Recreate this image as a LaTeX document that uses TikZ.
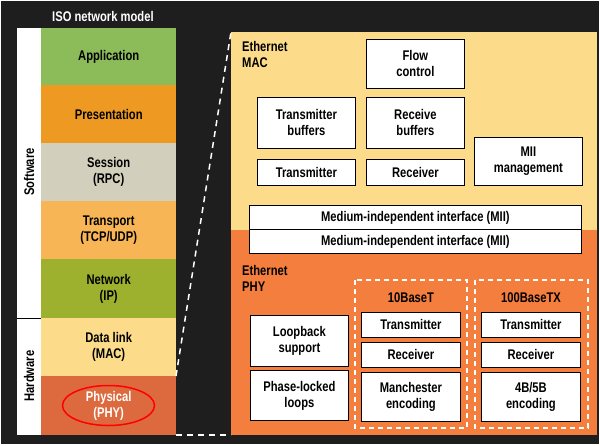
\documentclass[tikz,border=0pt]{standalone}
\usepackage{fontspec}
\setmainfont{Liberation Sans}[FakeStretch=0.8]
\begin{document}
\begin{tikzpicture}[x=1pt,y=-1pt,font=\bfseries\fontsize{14}{16}\selectfont,
  lay/.style={draw=none,minimum width=135pt,inner sep=0pt,align=center},
  box/.style={draw=black,fill=white,line width=0.8pt,inner sep=0pt,align=center},
  dsh/.style={draw=white,dashed,line width=1.5pt,dash pattern=on 6pt off 5pt}]
\definecolor{bg}{HTML}{1E1E1E}
\definecolor{app}{HTML}{8CBB5A}
\definecolor{pres}{HTML}{EE9A22}
\definecolor{sess}{HTML}{D2D0BC}
\definecolor{trans}{HTML}{F8B556}
\definecolor{net}{HTML}{9DB12E}
\definecolor{dl}{HTML}{FCDB8A}
\definecolor{phy}{HTML}{DC6A3E}
\definecolor{mac}{HTML}{FCDB8A}
\definecolor{ophy}{HTML}{F47E3E}
\useasboundingbox (0,0) rectangle (600,445);
\fill[white] (0,0) rectangle (600,445);
\fill[bg] (1,1) rectangle (599,444);
\node[white,anchor=west,inner sep=0pt] (title) at (52,16) {ISO network model};
\fill[white] (17,28) rectangle (41,435);
\draw[black,line width=0.8pt] (17,318) -- (41,318);
\node[rotate=90] (sw) at (29,172) {Software};
\node[rotate=90] (hw) at (29,376) {Hardware};
\node[lay,fill=app,minimum height=57pt,anchor=north west] (l7) at (41,28) {Application};
\node[lay,fill=pres,minimum height=58pt,anchor=north west] (l6) at (41,85) {Presentation};
\node[lay,fill=sess,minimum height=58pt,anchor=north west] (l5) at (41,143) {Session\\(RPC)};
\node[lay,fill=trans,minimum height=58pt,anchor=north west] (l4) at (41,201) {Transport\\(TCP/UDP)};
\node[lay,fill=net,minimum height=59pt,anchor=north west] (l3) at (41,259) {Network\\(IP)};
\node[lay,fill=dl,minimum height=58pt,anchor=north west] (l2) at (41,318) {Data link\\(MAC)};
\node[lay,fill=phy,minimum height=59pt,anchor=north west,text=white] (l1) at (41,376) {Physical\\(PHY)};
\draw[red,line width=1.5pt] (108.5,405.5) ellipse (46pt and 20pt);
% right panel
\fill[mac] (231,32) rectangle (597,230);
\fill[ophy] (231,230) rectangle (597,435);
\coordinate (pt) at (231,32);
\coordinate (pb) at (231,435);
\coordinate (lt) at (176,376);
\coordinate (lb) at (176,435);
\draw[dsh] (lt) -- (pt);
\draw[dsh] (lb) -- (pb);
\node[anchor=north west,align=left,inner sep=0pt] (emac) at (242,41) {Ethernet\\MAC};
\node[anchor=north west,align=left,inner sep=0pt] (ephy) at (242,265) {Ethernet\\PHY};
\node[box,minimum width=98pt,minimum height=49pt,anchor=north west] (fc) at (366,39) {Flow\\control};
\node[box,minimum width=98pt,minimum height=51pt,anchor=north west] (tb) at (257,97) {Transmitter\\buffers};
\node[box,minimum width=98pt,minimum height=51pt,anchor=north west] (rb) at (366,97) {Receive\\buffers};
\node[box,minimum width=98pt,minimum height=26pt,anchor=north west] (tx) at (257,159) {Transmitter};
\node[box,minimum width=98pt,minimum height=26pt,anchor=north west] (rx) at (366,159) {Receiver};
\node[box,minimum width=108pt,minimum height=48pt,anchor=north west] (mm) at (474,137) {MII\\management};
\node[box,minimum width=332pt,minimum height=24pt,anchor=north west] (mii1) at (249,205) {Medium-independent interface (MII)};
\node[box,minimum width=332pt,minimum height=24pt,anchor=north west] (mii2) at (249,229) {Medium-independent interface (MII)};
\node[box,minimum width=98pt,minimum height=51pt,anchor=north west] (lp) at (250,315) {Loopback\\support};
\node[box,minimum width=98pt,minimum height=50pt,anchor=north west] (pl) at (250,370) {Phase-locked\\loops};
\draw[dsh,line width=1.2pt,dash pattern=on 5pt off 4pt] (355,280) rectangle (467,428);
\draw[dsh,line width=1.2pt,dash pattern=on 5pt off 4pt] (475,280) rectangle (588,428);
\node (t10) at (411,298) {10BaseT};
\node (t100) at (531,298) {100BaseTX};
\node[box,minimum width=99pt,minimum height=25pt,anchor=north west] (a1) at (361,312) {Transmitter};
\node[box,minimum width=99pt,minimum height=25pt,anchor=north west] (a2) at (361,342) {Receiver};
\node[box,minimum width=99pt,minimum height=49pt,anchor=north west] (a3) at (361,372) {Manchester\\encoding};
\node[box,minimum width=99pt,minimum height=25pt,anchor=north west] (b1) at (481,312) {Transmitter};
\node[box,minimum width=99pt,minimum height=25pt,anchor=north west] (b2) at (481,342) {Receiver};
\node[box,minimum width=99pt,minimum height=49pt,anchor=north west] (b3) at (481,372) {4B/5B\\encoding};
\end{tikzpicture}
\end{document}
